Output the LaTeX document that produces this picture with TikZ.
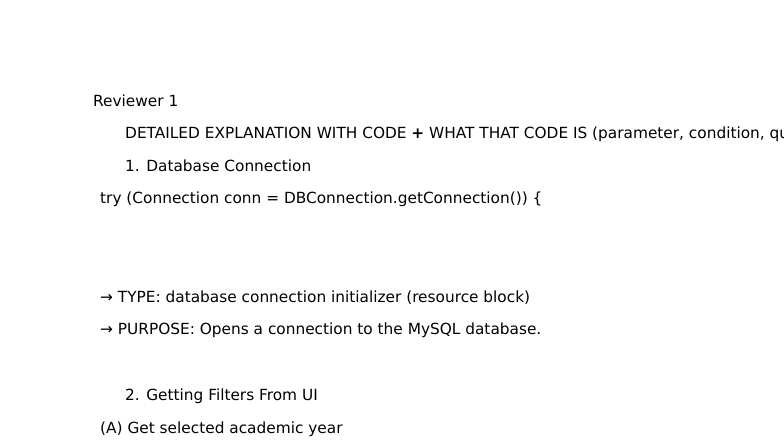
\documentclass[tikz,border=0pt]{standalone}
\usepackage{fontspec}
\setmainfont{DejaVu Sans}
\begin{document}
\begin{tikzpicture}[x=1bp,y=1bp,txt/.style={anchor=mid west,inner sep=0pt,font=\fontsize{15.4}{17}\selectfont}]
\useasboundingbox (0,0) rectangle (784,441);
\clip (0,0) rectangle (784,441);
\fill[white] (0,0) rectangle (784,441);
\node[txt] (r) at (93,337) {Reviewer 1};
\node[txt] (d) at (125,305) {DETAILED EXPLANATION WITH CODE \textbf{+} WHAT THAT CODE IS (parameter, condition, query)};
\node[txt] (h1) at (125,272) {1. Database Connection};
\node[txt] (t) at (100,240) {try (Connection conn = DBConnection.getConnection()) \{};
\node[txt] (ty) at (100,141) {→ TYPE: database connection initializer (resource block)};
\node[txt] (p) at (100,109) {→ PURPOSE: Opens a connection to the MySQL database.};
\node[txt] (h2) at (125,43) {2. Getting Filters From UI};
\node[txt] (a) at (100,10) {(A) Get selected academic year};
\end{tikzpicture}
\end{document}
